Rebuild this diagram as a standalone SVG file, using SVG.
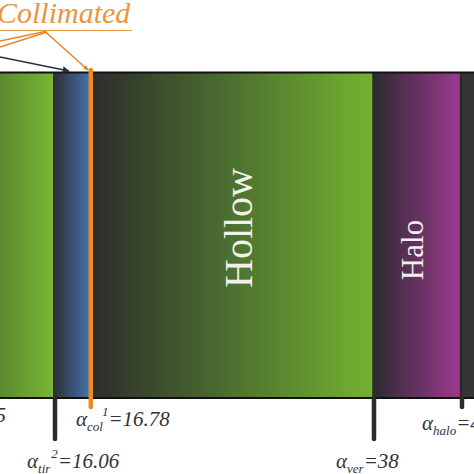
<svg xmlns="http://www.w3.org/2000/svg" width="474" height="474" viewBox="0 0 474 474">
<defs>
<linearGradient id="gL" x1="0" x2="1" y1="0" y2="0"><stop offset="0" stop-color="#5a8930"/><stop offset="1" stop-color="#78b634"/></linearGradient>
<linearGradient id="gB" x1="0" x2="1" y1="0" y2="0"><stop offset="0" stop-color="#2e2e30"/><stop offset="1" stop-color="#4270ae"/></linearGradient>
<linearGradient id="gH" x1="0" x2="1" y1="0" y2="0"><stop offset="0" stop-color="#2d2d2b"/><stop offset="0.5" stop-color="#4d7130"/><stop offset="1" stop-color="#74b230"/></linearGradient>
<linearGradient id="gM" x1="0" x2="1" y1="0" y2="0"><stop offset="0" stop-color="#2f2a31"/><stop offset="1" stop-color="#9c3a90"/></linearGradient>
<marker id="aO" viewBox="0 0 10 10" refX="9" refY="5" markerWidth="5" markerHeight="5" orient="auto" markerUnits="userSpaceOnUse"><path d="M0,0 L10,5 L0,10 z" fill="#e8832a"/></marker>
<marker id="aD" viewBox="0 0 10 10" refX="9" refY="5" markerWidth="7" markerHeight="7" orient="auto" markerUnits="userSpaceOnUse"><path d="M0,0 L10,5 L0,10 z" fill="#2a2f3a"/></marker>
</defs>
<style>
text{font-family:"Liberation Serif","Times New Roman","DejaVu Serif",serif}
.lbl{font-style:italic;fill:#333;font-size:21px}
.sub{font-size:13px}
.reg{fill:#f2f0ea}
.ttl{font-style:italic;font-size:30px;fill:#e8963a}
.tick{stroke:#2b2b2b;stroke-width:4.5;stroke-linecap:round}
</style>
<g id="regions">
<rect id="green" x="0" y="72" width="53" height="326" fill="url(#gL)"/>
<rect id="blue" x="53" y="72" width="36" height="326" fill="url(#gB)"/>
<g id="hollow"><rect x="92" y="72" width="281" height="326" fill="url(#gH)"/>
<text class="reg" font-size="40" transform="translate(252,228) rotate(-90)" text-anchor="middle">Hollow</text></g>
<g id="halo"><rect x="374" y="72" width="87" height="326" fill="url(#gM)"/>
<text class="reg" font-size="31" transform="translate(423,250) rotate(-90)" text-anchor="middle">Halo</text></g>
<rect id="right" x="461" y="72" width="13" height="326" fill="#353533"/>
<line x1="373.5" y1="72" x2="373.5" y2="398" stroke="#2b2b2b" stroke-width="2.5"/>
<line x1="461" y1="72" x2="461" y2="398" stroke="#2b2b2b" stroke-width="2.5"/>
<line x1="0" y1="72.5" x2="474" y2="72.5" stroke="#111" stroke-width="2"/>
<line x1="0" y1="398" x2="474" y2="398" stroke="#111" stroke-width="2"/>
</g>
<g id="connectors">
<line class="tick" x1="55" y1="398" x2="55" y2="439"/>
<line class="tick" x1="374" y1="398" x2="374" y2="439"/>
<line class="tick" x1="462" y1="398" x2="462" y2="407"/>
<line x1="90.8" y1="70" x2="90.8" y2="407" stroke="#ee8a24" stroke-width="4.5" stroke-linecap="round"/>
<polyline points="0,41 45,31.5 88,70" fill="none" stroke="#e8832a" stroke-width="1.5" marker-end="url(#aO)"/>
<line x1="0" y1="47" x2="47" y2="32" stroke="#e8832a" stroke-width="1.5"/>
<line x1="0" y1="57" x2="69" y2="71" stroke="#2a2f3a" stroke-width="1.5" marker-end="url(#aD)"/>
</g>
<g id="title">
<text class="ttl" x="-3" y="23">Collimated</text>
<line x1="0" y1="30.5" x2="132" y2="30.5" stroke="#e8963a" stroke-width="1.2"/>
</g>
<g id="labels">
<text class="lbl" x="6" y="422" text-anchor="end">5</text>
<text class="lbl" x="76" y="426">α<tspan class="sub" dy="5">col</tspan><tspan class="sub" dx="-1" dy="-15">1</tspan><tspan dy="10">=16.78</tspan></text>
<text class="lbl" x="27" y="468">α<tspan class="sub" dy="5">tir</tspan><tspan class="sub" dx="1" dy="-15">2</tspan><tspan dy="10">=16.06</tspan></text>
<text class="lbl" x="336" y="468">α<tspan class="sub" dy="5">ver</tspan><tspan dy="-5">=38</tspan></text>
<text class="lbl" x="422" y="430">α<tspan class="sub" dy="5">halo</tspan><tspan dy="-5">=4</tspan></text>
</g>
</svg>
